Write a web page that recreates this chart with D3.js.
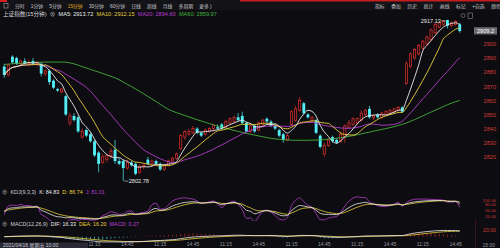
<!DOCTYPE html>
<html>
<head>
<meta charset="utf-8">
<script src="https://cdn.jsdelivr.net/npm/d3@7/dist/d3.min.js"></script>
<style>
  body { margin: 0; background: #0c0c11; }
  svg { display: block; font-family: "Liberation Sans", "Noto Sans CJK SC", sans-serif; }
</style>
</head>
<body>
<div id="chart"></div>
<script>
// toolbar + legend texts
const periods = ['分时', '1分钟', '5分钟', '15分钟', '30分钟', '60分钟', '日线', '周线', '月线', '多周期', '更多 )']
const tools = ['指标', '叠加', '历史', '统计', '画线', '标记', '+自选', '颜色']
const maNames = ['MA5', 'MA10', 'MA20', 'MA60']
const maLegend = [2913.72, 2912.15, 2894.60, 2859.97]
const kdjNames = ['K', 'D', 'J']
const kdjLegend = [84.83, 86.74, 81.01]
const macdNames = ['DIF', 'DEA', 'MACD']
const macdLegend = [16.33, 16.20, 0.27]

// 15 minute bars
const open = [2884,2878,2891,2890,2886,2888,2886,2888,2886,2886,2879,2881,2874,2868,2866,2863,2844,2849,2848,2834,
  2839,2836,2831,2823,2816,2818,2821,2825,2817,2817,2812,2816,2815,2809,2813,2818,2815,2817,2815,2811,
  2814,2817,2819,2826,2834,2836,2837,2840,2837,2836,2838,2840,2841,2843,2841,2844,2845,2848,2849,2844,
  2838,2842,2839,2843,2847,2845,2842,2839,2836,2832,2843,2846,2853,2858,2850,2846,2846,2835,2822,2828,
  2834,2832,2831,2834,2841,2843,2844,2846,2850,2854,2848,2850,2848,2850,2851,2852,2853,2855,2872,2884,
  2890,2893,2897,2900,2903,2908,2912,2914,2917,2913,2914,2914]
const high = [2886,2886,2892,2891,2889,2890,2889,2890,2888,2887,2882,2882,2875,2869,2869,2864,2851,2851,2849,2840,
  2840,2837,2832,2824,2822,2822,2826,2832,2819,2818,2818,2817,2816,2815,2815,2820,2818,2818,2816,2815,
  2818,2820,2823,2836,2839,2840,2842,2841,2838,2840,2841,2843,2843,2844,2846,2848,2849,2851,2852,2845,
  2843,2843,2845,2847,2848,2846,2843,2840,2837,2836,2853,2856,2862.4,2859,2851,2849,2847,2836,2830,2833,
  2835,2833,2838,2843,2846,2848,2848,2853,2854,2856,2850,2851,2852,2853,2854,2855,2856,2856,2888,2894,
  2897,2900,2903,2906,2911,2915,2916,2917,2917.13,2916,2917,2915]
const low = [2876,2877,2886,2885,2884,2885,2884,2885,2884,2877,2877,2871,2868,2866,2865,2849,2842,2845,2837,2833,
  2834,2830,2820,2809,2815,2816,2819,2815,2814,2802.78,2811,2813,2807,2808,2811,2814,2813,2814,2810,2810,
  2813,2816,2818,2825,2832,2835,2836,2836,2834,2835,2837,2838,2839,2839,2840,2843,2844,2845,2843,2837,
  2837,2837,2838,2842,2844,2841,2839,2834,2830,2831,2842,2845,2852,2850,2847,2844,2836,2826,2820,2827,
  2830,2829,2830,2830,2840,2842,2843,2845,2849,2847,2846,2847,2847,2849,2850,2851,2852,2851,2871,2883,
  2889,2892,2896,2899,2902,2907,2911,2913,2911,2912,2913,2908]
const close = [2878,2885,2887,2886,2888,2886,2887,2886,2887,2879,2881,2873,2869,2867,2868,2850,2849,2846,2838,2838,
  2835,2831,2821,2815,2820,2821,2824,2817,2815,2812,2816,2814,2808,2813,2814,2815,2817,2815,2811,2814,
  2817,2819,2822,2835,2838,2838,2840,2837,2835,2839,2840,2842,2840,2840,2845,2847,2848,2846,2844,2838,
  2842,2838,2844,2846,2845,2842,2840,2835,2832,2835,2852,2854,2860,2851,2848,2848,2837,2827,2828,2832,
  2831,2830,2836,2842,2844,2847,2847,2851,2853,2848,2849,2848,2851,2852,2853,2854,2855,2852,2886,2893,
  2896,2899,2902,2905,2910,2914,2915,2916,2913,2915,2916,2909.2]
// MA60 as drawn (needs history before the first visible bar)
const ma60 = [2885.5,2885.7,2886.0,2886.2,2886.4,2886.6,2886.8,2886.9,2887.0,2887.1,
  2887.2,2887.2,2887.2,2887.2,2887.2,2887.1,2886.6,2885.9,2885.0,2883.9,
  2883.0,2882.0,2881.0,2880.1,2879.1,2878.1,2877.1,2876.0,2874.6,2873.0,
  2871.3,2869.8,2868.1,2866.4,2864.6,2862.8,2861.0,2859.2,2857.3,2855.4,
  2853.6,2852.4,2851.3,2850.3,2849.3,2848.3,2847.3,2846.3,2845.4,2844.5,
  2843.6,2842.7,2841.8,2841.0,2840.2,2839.4,2838.7,2838.0,2837.3,2836.6,
  2836.0,2835.4,2834.8,2834.2,2833.6,2833.1,2832.7,2832.4,2832.1,2831.9,
  2831.8,2831.7,2831.7,2831.7,2831.7,2831.8,2831.9,2832.0,2832.2,2832.5,
  2832.8,2833.2,2833.6,2834.0,2834.5,2835.0,2835.6,2836.2,2836.9,2837.5,
  2838.2,2838.8,2839.4,2840.0,2840.7,2841.4,2842.2,2843.0,2844.0,2845.2,
  2846.4,2847.7,2849.0,2850.4,2851.7,2853.0,2854.3,2855.6,2856.9,2858.1,
  2859.1,2859.97]

const priceTicks = [2820, 2830, 2840, 2850, 2860, 2870, 2880, 2890, 2900]
const kdjTicks = [100, 80, 50, 20]
const macdTicks = [20]
const timeLabels = ['11:15','14:45','11:15','14:45','11:15','14:45','11:15','14:45','11:15','14:45','11:15','14:45']

const W = 500, H = 248
const BG = '#0c0c11', RED = '#e8302c', CYAN = '#52eef6', AXIS_RED = '#d23a36'
const maColors = ['#ececec', '#e8cf3a', '#b83ccc', '#45b03c']
const N = close.length
const idx = d3.range(N)

const svg = d3.select('#chart').append('svg').attr('width', W).attr('height', H)
svg.append('rect').attr('width', W).attr('height', H).attr('fill', BG)

// top bar
svg.append('rect').attr('width', W).attr('height', 10).attr('fill', '#131317')
svg.append('rect').attr('x', 0).attr('y', 0).attr('width', 7).attr('height', 2).attr('fill', '#d42020')
svg.append('rect').attr('x', 240).attr('y', 0).attr('width', 260).attr('height', 1.5).attr('fill', '#c41e1e')
svg.append('rect').attr('x', 4).attr('y', 3.5).attr('width', 4).attr('height', 4.5)
  .attr('fill', 'none').attr('stroke', '#9a9aa0').attr('stroke-width', 0.6)

function textRow(items, x0, yy, gap, size, colorOf) {
  let xx = x0
  items.forEach((t, i) => {
    const el = svg.append('text').attr('x', xx).attr('y', yy)
      .attr('font-size', size).attr('fill', colorOf(i)).text(t)
    xx += el.node().getComputedTextLength() + gap
  })
}
textRow(periods, 15, 7.8, 6.2, 4.8, i => periods[i] === '15分钟' ? '#e8b020' : '#c8c8cc')
textRow(tools, 375, 7.8, 6.6, 4.8, () => '#c8c8cc')

// legends
const fmt = d3.format('.2f')
textRow(['上证指数(15分钟)', '⊕'].concat(maNames.map((n, k) => n + ': ' + fmt(maLegend[k]))),
  3, 16.2, 3.2, 5.6, i => i < 2 ? '#d8d8dc' : maColors[i - 2])
textRow(['⊕', 'KDJ(9,3,3)'].concat(kdjNames.map((n, k) => n + ': ' + fmt(kdjLegend[k]))),
  2, 194, 3, 5.4, i => i < 2 ? '#d0d0d4' : [maColors[0], maColors[1], maColors[2]][i - 2])
textRow(['⊕', 'MACD(12,26,9)'].concat(macdNames.map((n, k) => n + ': ' + fmt(macdLegend[k]))),
  2, 226, 3, 5.4, i => i < 2 ? '#d0d0d4' : [maColors[0], maColors[1], '#c040d8'][i - 2])

// scales
const x = d3.scaleBand().domain(idx).range([2, 462]).paddingInner(0.3).paddingOuter(0.2)
const cx = i => x(i) + x.bandwidth() / 2
const y = d3.scaleLinear().domain([2820, 2900]).range([156.8, 44])

// moving averages
function ma(n) {
  return close.map((c, i) => d3.mean(close.slice(Math.max(0, i - n + 1), i + 1)))
}
const maSeries = [ma(5), ma(10), ma(20), ma60]

svg.append('clipPath').attr('id', 'mainclip').append('rect')
  .attr('x', 0).attr('y', 19).attr('width', 466).attr('height', 168)
const main = svg.append('g').attr('clip-path', 'url(#mainclip)')

// candles
const up = i => close[i] >= open[i]
main.selectAll('line.wick').data(idx).join('line').attr('class', 'wick')
  .attr('x1', cx).attr('x2', cx)
  .attr('y1', i => y(high[i])).attr('y2', i => y(low[i]))
  .attr('stroke', i => up(i) ? RED : CYAN).attr('stroke-width', 0.7)
main.selectAll('rect.body').data(idx).join('rect').attr('class', 'body')
  .attr('x', i => x(i) + (up(i) ? 0.35 : 0))
  .attr('width', i => x.bandwidth() - (up(i) ? 0.7 : 0))
  .attr('y', i => y(Math.max(open[i], close[i])))
  .attr('height', i => Math.max(0.8, Math.abs(y(open[i]) - y(close[i]))))
  .attr('fill', i => up(i) ? BG : CYAN)
  .attr('stroke', i => up(i) ? RED : 'none').attr('stroke-width', 0.7)

const line = d3.line().x((d, i) => cx(i)).y(d => y(d)).curve(d3.curveMonotoneX)
main.selectAll('path.ma').data(maSeries.slice().reverse()).join('path').attr('class', 'ma')
  .attr('d', line).attr('fill', 'none')
  .attr('stroke', (d, k) => maColors[3 - k]).attr('stroke-width', 0.9)

// high / low marks
const hiI = d3.maxIndex(high), loI = d3.minIndex(low)
svg.append('line').attr('x1', cx(hiI) - 6).attr('x2', cx(hiI) - 1.5)
  .attr('y1', y(high[hiI]) + 1).attr('y2', y(high[hiI]) + 1).attr('stroke', '#e0e0e0').attr('stroke-width', 0.6)
svg.append('text').attr('x', cx(hiI) - 6.5).attr('y', y(high[hiI]) + 3).attr('text-anchor', 'end')
  .attr('font-size', 5.6).attr('fill', '#e6e6e6').text(fmt(high[hiI]))
svg.append('line').attr('x1', cx(loI) + 1).attr('x2', cx(loI) + 5)
  .attr('y1', y(low[loI])).attr('y2', y(low[loI])).attr('stroke', '#e0e0e0').attr('stroke-width', 0.6)
svg.append('text').attr('x', cx(loI) + 5.5).attr('y', y(low[loI]) + 2)
  .attr('font-size', 5.6).attr('fill', '#e6e6e6').text(fmt(low[loI]))

// small icons top right
svg.append('circle').attr('cx', 463).attr('cy', 15.5).attr('r', 2).attr('fill', 'none')
  .attr('stroke', '#8a8a90').attr('stroke-width', 0.6)
svg.append('rect').attr('x', 468).attr('y', 13).attr('width', 4.5).attr('height', 5.5).attr('fill', 'none')
  .attr('stroke', '#8a8a90').attr('stroke-width', 0.6)

// price axis
const yAxis = svg.append('g').attr('transform', 'translate(496,0)')
  .call(d3.axisLeft(y).tickValues(priceTicks).tickSize(0).tickPadding(0).tickFormat(d3.format('d')))
yAxis.select('.domain').remove()
yAxis.selectAll('text').attr('fill', AXIS_RED).attr('font-size', 5.6).attr('font-family', null)

// last price box
const last = close[N - 1]
svg.append('rect').attr('x', 474).attr('y', y(last) - 3.8).attr('width', 23).attr('height', 7.2).attr('fill', '#6c6c72')
svg.append('text').attr('x', 485.5).attr('y', y(last) + 2).attr('text-anchor', 'middle')
  .attr('font-size', 5.6).attr('fill', '#ffffff').text(d3.format('.1f')(last))

// KDJ
const K = [], D = [], J = []
idx.forEach(i => {
  const lo = d3.min(low.slice(Math.max(0, i - 8), i + 1))
  const hi = d3.max(high.slice(Math.max(0, i - 8), i + 1))
  const rsv = hi === lo ? 50 : (close[i] - lo) / (hi - lo) * 100
  const k = (i ? K[i - 1] : 50) * 2 / 3 + rsv / 3
  const d = (i ? D[i - 1] : 50) * 2 / 3 + k / 3
  K.push(k); D.push(d); J.push(3 * k - 2 * d)
})
const yK = d3.scaleLinear().domain([0, 100]).range([220, 200])
svg.append('clipPath').attr('id', 'kdjclip').append('rect')
  .attr('x', 0).attr('y', 196).attr('width', 466).attr('height', 25)
const kdjG = svg.append('g').attr('clip-path', 'url(#kdjclip)')
const kLine = d3.line().x((d, i) => cx(i)).y(d => yK(d)).curve(d3.curveMonotoneX)
kdjG.selectAll('path').data([J, D, K]).join('path').attr('d', kLine).attr('fill', 'none')
  .attr('stroke', (d, k) => [maColors[2], maColors[1], maColors[0]][k]).attr('stroke-width', 0.8)
const kAxis = svg.append('g').attr('transform', 'translate(496,0)')
  .call(d3.axisLeft(yK).tickValues(kdjTicks).tickSize(0).tickPadding(0).tickFormat(fmt))
kAxis.select('.domain').remove()
kAxis.selectAll('text').attr('fill', AXIS_RED).attr('font-size', 4.3).attr('font-family', null)

// MACD
function ema(arr, n) {
  const a = 2 / (n + 1), out = []
  arr.forEach((v, i) => out.push(i ? out[i - 1] + a * (v - out[i - 1]) : v))
  return out
}
const e12 = ema(close, 12), e26 = ema(close, 26)
const dif = close.map((c, i) => e12[i] - e26[i])
const dea = ema(dif, 9)
const hist = dif.map((v, i) => 2 * (v - dea[i]))
const mMin = d3.min([d3.min(dif), d3.min(dea), d3.min(hist)])
const yM = d3.scaleLinear().domain([mMin, 20]).range([242, 230])
svg.append('g').selectAll('line').data(idx).join('line')
  .attr('x1', cx).attr('x2', cx).attr('y1', yM(0)).attr('y2', i => yM(hist[i]))
  .attr('stroke', i => hist[i] >= 0 ? RED : CYAN).attr('stroke-width', 0.6)
const mLine = d3.line().x((d, i) => cx(i)).y(d => yM(d)).curve(d3.curveMonotoneX)
svg.append('g').selectAll('path').data([dea, dif]).join('path').attr('d', mLine).attr('fill', 'none')
  .attr('stroke', (d, k) => [maColors[1], maColors[0]][k]).attr('stroke-width', 0.8)
const mAxis = svg.append('g').attr('transform', 'translate(496,0)')
  .call(d3.axisLeft(yM).tickValues(macdTicks).tickSize(0).tickPadding(0).tickFormat(fmt))
mAxis.select('.domain').remove()
mAxis.selectAll('text').attr('fill', AXIS_RED).attr('font-size', 5.2).attr('font-family', null)

svg.append('line').attr('x1', 475.5).attr('x2', 475.5).attr('y1', 220).attr('y2', 248)
  .attr('stroke', '#5a1c1c').attr('stroke-width', 0.6)

// time axis (first two ticks sit under the date box)
const tickIdx = idx.filter(i => i % 8 === 6 && i > 20)
const xAxis = svg.append('g').attr('transform', 'translate(0,242.5)')
  .call(d3.axisBottom(x).tickValues(tickIdx).tickSize(0).tickPadding(0).tickFormat((d, k) => timeLabels[k]))
xAxis.select('.domain').remove()
xAxis.selectAll('text').attr('fill', '#9a9aa2').attr('font-size', 5).attr('font-family', null)

svg.append('rect').attr('x', 0).attr('y', 242.5).attr('width', 88).attr('height', 5.5).attr('fill', '#2a2a36')
svg.append('text').attr('x', 3).attr('y', 247.3).attr('font-size', 5).attr('fill', '#c8c8d2').text('2021/04/16 星期五 10:00')
svg.append('text').attr('x', 495).attr('y', 247.3).attr('text-anchor', 'end')
  .attr('font-size', 5).attr('fill', '#9a9aa2').text('15:00')
</script>
</body>
</html>
